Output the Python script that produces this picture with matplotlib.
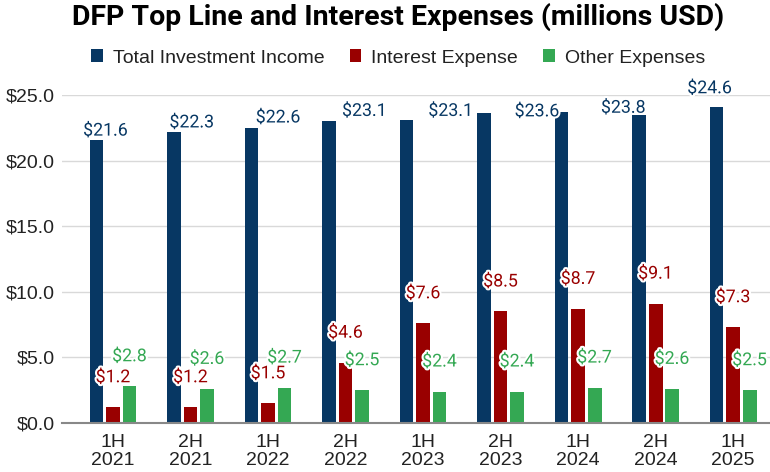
import numpy as np
import matplotlib
matplotlib.use('Agg')
import matplotlib.pyplot as plt
import matplotlib.patheffects as pe

plt.rcParams['font.family'] = ['Liberation Sans', 'DejaVu Sans']

periods = ['1H\n2021', '2H\n2021', '1H\n2022', '2H\n2022', '1H\n2023',
           '2H\n2023', '1H\n2024', '2H\n2024', '1H\n2025']
income = [21.6, 22.2, 22.5, 23.0, 23.1, 23.6, 23.7, 23.5, 24.1]
interest = [1.2, 1.2, 1.5, 4.6, 7.6, 8.5, 8.7, 9.1, 7.3]
other = [2.8, 2.6, 2.7, 2.5, 2.4, 2.4, 2.7, 2.6, 2.5]
# labels shown for the income bars (last one falls off the chart)
income_labels = [21.6, 22.3, 22.6, 23.1, 23.1, 23.6, 23.8, 24.6]
income_label_dy = [9, 8, 9, 9, 9, 2, 3, 12]

navy = '#073763'
red = '#990000'
green = '#34a853'

fig = plt.figure(figsize=(7.7, 4.72), dpi=100)
ax = fig.add_axes([62/770, 49/472, 708/770, 328/472])

x = np.arange(len(periods))
w = 0.18
off = 0.213
b1 = ax.bar(x - off, income, w, color=navy, zorder=2)
b2 = ax.bar(x, interest, w, color=red, zorder=2)
b3 = ax.bar(x + off, other, w, color=green, zorder=2)

halo = [pe.withStroke(linewidth=3, foreground='white')]
fs = 12.8

for i, v in enumerate(income_labels):
    ax.annotate(f'${v:.1f}', xy=(x[i] - off, v), xytext=(9 + 8.8*i, income_label_dy[i]),
                textcoords='offset pixels', ha='center', va='center',
                color=navy, fontsize=fs, family='Roboto', path_effects=halo, zorder=4,
                annotation_clip=False)

for vals, pos, col in [(interest, x, red), (other, x + off, green)]:
    for xi, v in zip(pos, vals):
        ax.annotate(f'${v:.1f}', xy=(xi, v), xytext=(0, 30),
                    textcoords='offset pixels', ha='center', va='center',
                    color=col, fontsize=fs, family='Roboto', path_effects=halo, zorder=4)

ax.set_xlim(-0.658, 8.477)
ax.set_ylim(0, 25)
ax.set_yticks(np.arange(0, 26, 5))
ax.set_yticklabels([f'${t:.1f}' for t in np.arange(0, 26, 5)])
ax.set_xticks(x)
ax.set_xticklabels(periods, linespacing=1.05)
ax.tick_params(axis='both', length=0, labelsize=14, colors='#222222')
ax.tick_params(axis='y', pad=5)
ax.tick_params(axis='x', pad=8)
ax.grid(axis='y', color='#d9d9d9', linewidth=1, zorder=0)
for s in ['left', 'right', 'top']:
    ax.spines[s].set_visible(False)
ax.spines['bottom'].set_color('#888888')
ax.spines['bottom'].set_linewidth(1.5)
ax.spines['bottom'].set_zorder(3)

fig.text(0.517, 1 - 17/472, 'DFP Top Line and Interest Expenses (millions USD)',
         ha='center', va='center', fontsize=20.5, fontweight='bold', family='Roboto')

fig.legend([b1, b2, b3], ['Total Investment Income', 'Interest Expense', 'Other Expenses'],
           loc='center', bbox_to_anchor=(0.517, 1 - 58/472), ncol=3, frameon=False,
           fontsize=14, handlelength=0.6, handleheight=0.6, handletextpad=0.5,
           columnspacing=1.3, labelcolor='#222222')

fig.savefig('out.png', dpi=100)
